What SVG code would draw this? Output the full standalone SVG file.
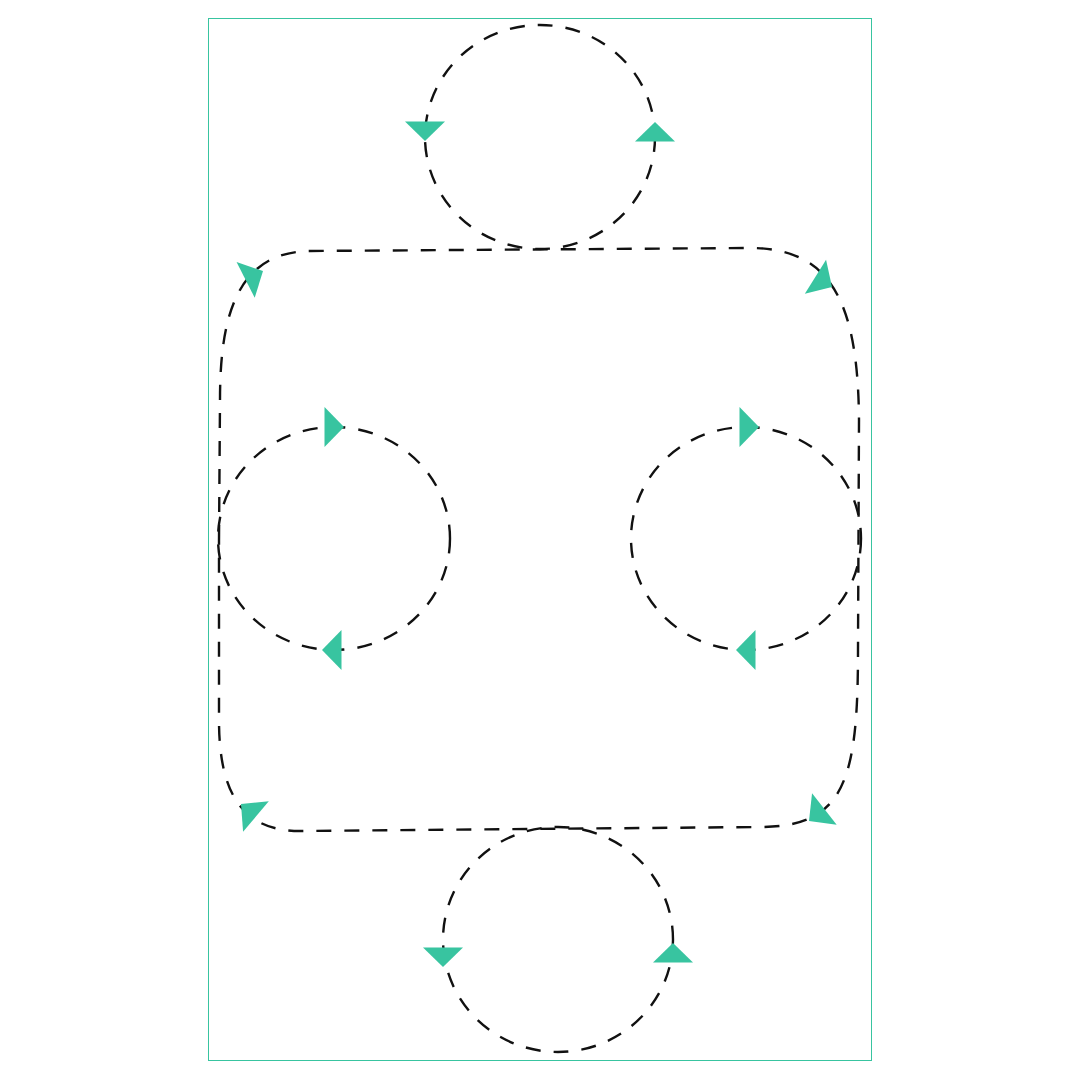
<svg xmlns="http://www.w3.org/2000/svg" width="1080" height="1080" viewBox="0 0 1080 1080">
  <style>
    .flow { fill: none; stroke: #111111; stroke-width: 2.4; stroke-dasharray: 15 13; }
    .head { fill: #38C4A0; }
    .frame { fill: none; stroke: #38C4A0; stroke-width: 1; }
  </style>
  <defs>
    <polygon id="tri" points="0,0 -19.5,-20 -19.5,20"/>
  </defs>
  <rect width="1080" height="1080" fill="#ffffff"/>
  <rect class="frame" x="208.5" y="18.5" width="663" height="1042"/>

  <g id="connectors">
    <path id="outer-loop" class="flow" d="M219,540 L220,400 C220,320 235,252 310,251 L750,248 C830,248 858,300 859,420 L858,650 C858,780 845,827 760,827 L300,831 C240,831 219,790 219,720 Z"/>
    <ellipse id="top-loop" class="flow" cx="540" cy="137" rx="115" ry="112"/>
    <ellipse id="left-loop" class="flow" cx="334" cy="538.5" rx="116" ry="111.5"/>
    <ellipse id="right-loop" class="flow" cx="746" cy="538.5" rx="115" ry="111.5"/>
    <ellipse id="bottom-loop" class="flow" cx="558" cy="939.5" rx="115" ry="112.5"/>
  </g>

  <g id="arrowheads">
    <use href="#tri" class="head" transform="translate(425,141) rotate(90)"/>
    <use href="#tri" class="head" transform="translate(655,122) rotate(-90)"/>
    <use href="#tri" class="head" transform="translate(344,427)"/>
    <use href="#tri" class="head" transform="translate(322,650) rotate(180)"/>
    <use href="#tri" class="head" transform="translate(759,427)"/>
    <use href="#tri" class="head" transform="translate(736,650) rotate(180)"/>
    <use href="#tri" class="head" transform="translate(443,967) rotate(90)"/>
    <use href="#tri" class="head" transform="translate(673,943) rotate(-90)"/>
    <use href="#tri" class="head" transform="translate(263,271) rotate(-27)"/>
    <use href="#tri" class="head" transform="translate(832,287) rotate(32)"/>
    <use href="#tri" class="head" transform="translate(809,821) rotate(142)"/>
    <use href="#tri" class="head" transform="translate(241,804) rotate(-140)"/>
  </g>
</svg>
